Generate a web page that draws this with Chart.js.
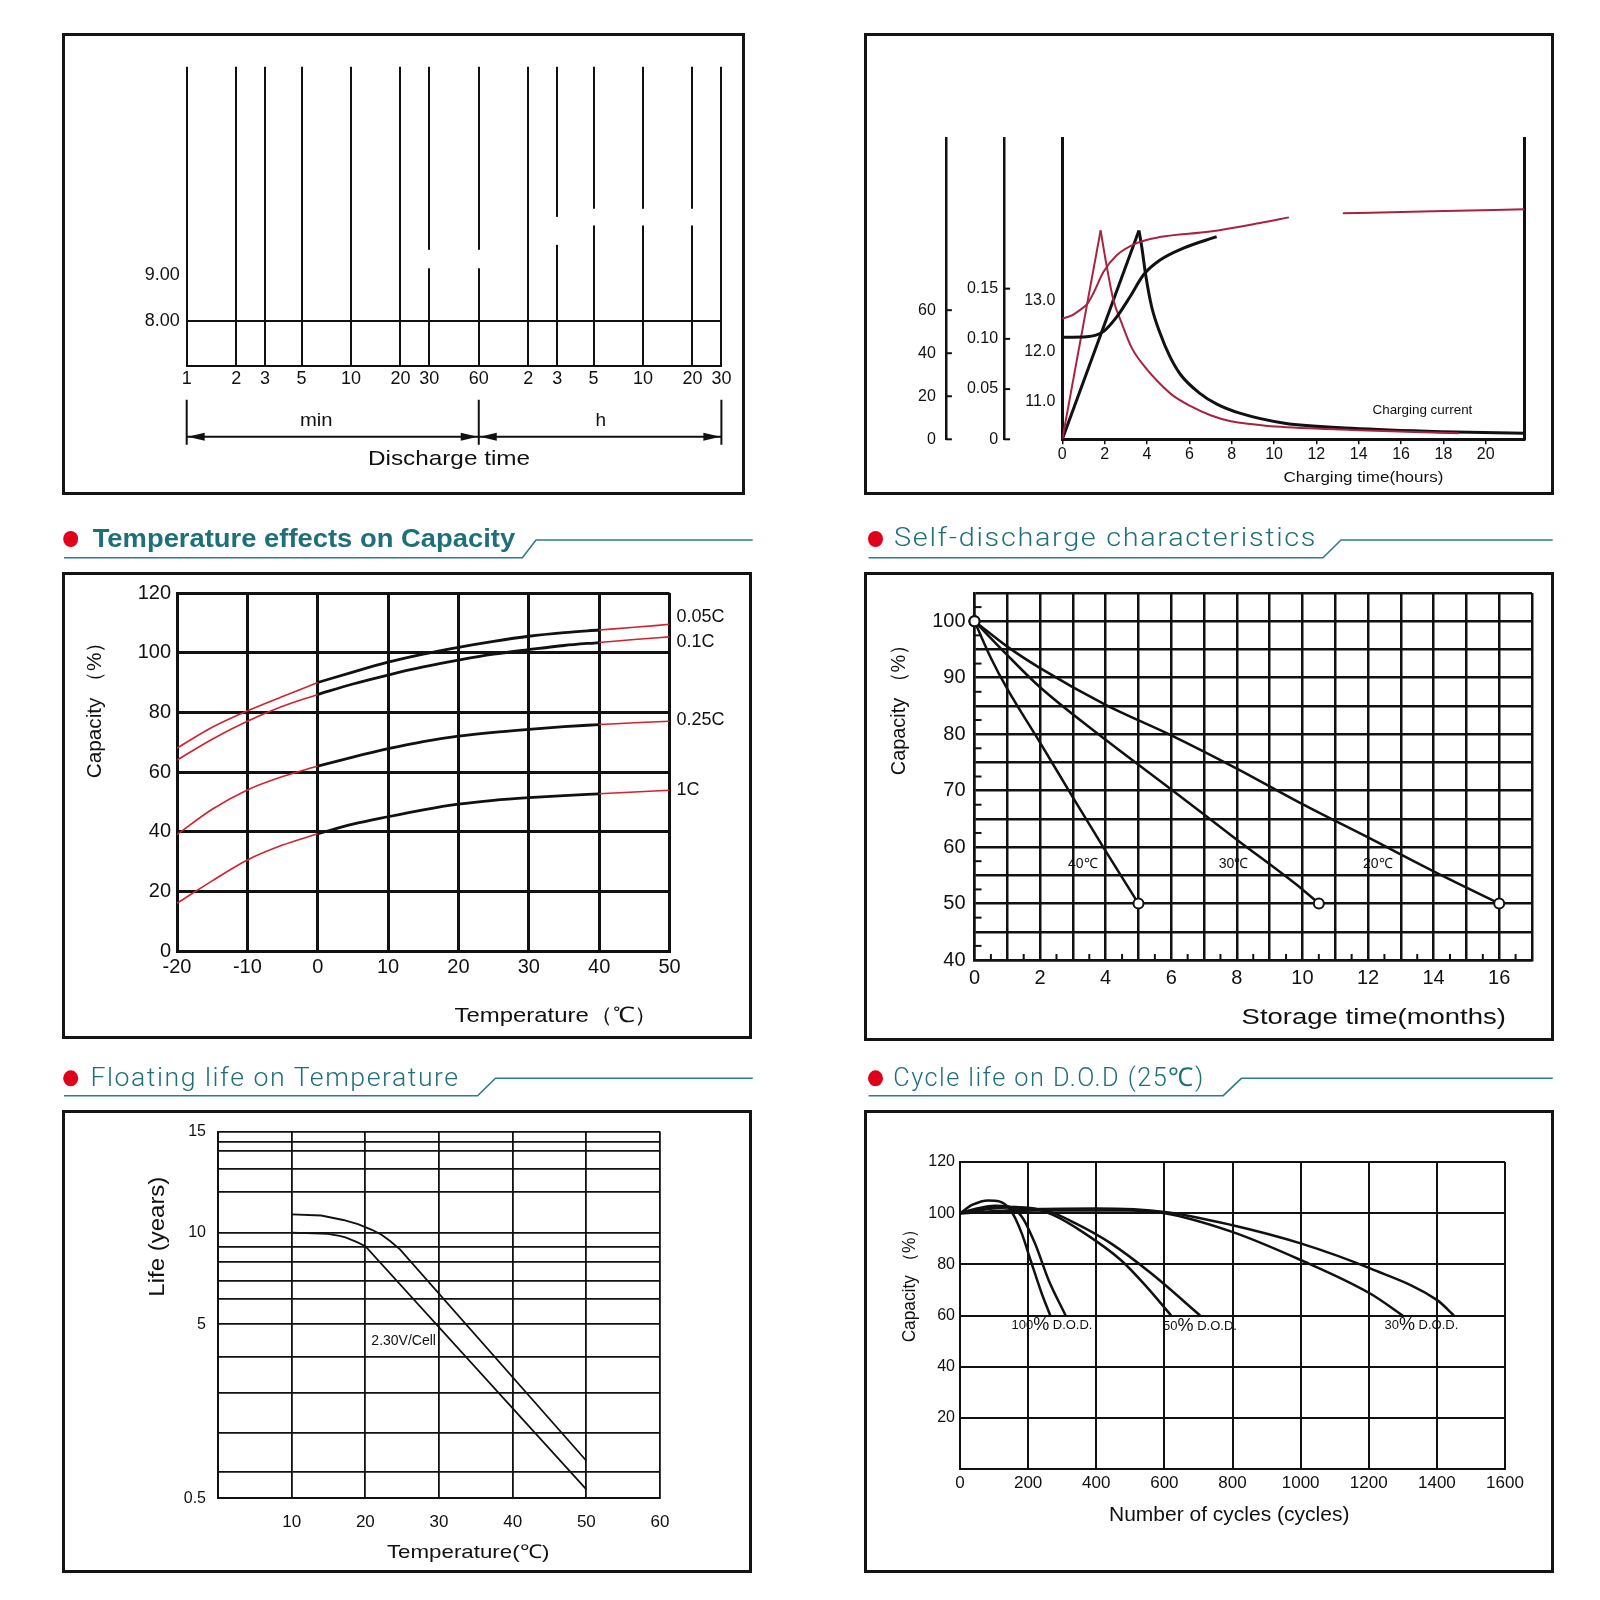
<!DOCTYPE html>
<html>
<head>
<meta charset="utf-8">
<title>Battery characteristics</title>
<script src="https://cdn.jsdelivr.net/npm/chart.js@4.4.1/dist/chart.umd.min.js"></script>
<style>
  html, body { margin: 0; padding: 0; background: #fff; }
  #page { position: relative; width: 1600px; height: 1600px; overflow: hidden;
          font-family: "Liberation Sans", Arial, sans-serif; color: #111; }
  canvas { position: absolute; }
  .frame { position: absolute; border: 3px solid #141414; box-sizing: border-box; }
  .t { position: absolute; white-space: nowrap; line-height: 1.15; transform-origin: 50% 50%; }
</style>
</head>
<body>
<div id="page"></div>
<script>
const FONT = '"Liberation Sans", Arial, sans-serif';
const INK = '#111111';
const RED = '#d0232f';
const WINE = '#a9223f';
const TEAL = '#1f6f7a';

// ---------- discharge (blank grid) ----------
const dischargeTicks = [1, 2, 3, 5, 10, 20, 30, 60, 120, 180, 300, 600, 1200, 1800]; // minutes
const dischargeLabels = ['1', '2', '3', '5', '10', '20', '30', '60', '2', '3', '5', '10', '20', '30'];
const endVoltTicks = [8, 9];
const spanEdges = [1, 60, 1800];
// white breaks in the vertical rules
const breakTimes = [30, 60, 180, 300, 600, 1200];
const breakLow = [9.16, 9.16, 9.68, 10.11, 10.11, 10.11];
const breakHigh = [9.57, 9.57, 10.30, 10.48, 10.48, 10.48];

// ---------- charging characteristics ----------
const chargeHourTicks = [0, 2, 4, 6, 8, 10, 12, 14, 16, 18, 20];
const chargeVoltTicks = [11, 12, 13];
const chargeCurrTicks = [0, 0.05, 0.10, 0.15];
const chargeVolTicks = [0, 20, 40, 60];
const wineVoltHours = [0, 0.4, 0.84, 1.2, 1.47, 1.94, 2.57, 3.51, 4.6, 6.98, 9.34, 10.7, 12, 13.25, 17.5, 21.83];
const wineVoltValues = [12.65, 12.7, 12.82, 12.95, 13.15, 13.57, 13.9, 14.14, 14.26, 14.37, 14.54, 14.65, null, 14.73, 14.77, 14.81];
const blackVoltHours = [0, 1.15, 1.94, 2.57, 3.2, 3.83, 4.6, 5.72, 7.29];
const blackVoltValues = [12.28, 12.29, 12.39, 12.68, 13.08, 13.51, 13.8, 14.04, 14.27];
const wineCurrHours = [0, 1.81, 2.1, 2.41, 2.8, 3.28, 3.9, 4.58, 5.2, 6.06, 7.0, 7.96, 9.0, 10.07, 13.66, 18.73];
const wineCurrValues = [0, 0.208, 0.172, 0.139, 0.116, 0.091, 0.072, 0.056, 0.044, 0.033, 0.024, 0.018, 0.015, 0.0127, 0.0093, 0.006];
const blackCurrHours = [0, 3.62, 3.75, 3.95, 4.22, 4.61, 5.09, 5.6, 6.48, 7.3, 8.38, 10.5, 13.66, 17.9, 21.83];
const blackCurrValues = [0, 0.208, 0.192, 0.162, 0.132, 0.106, 0.082, 0.064, 0.046, 0.035, 0.026, 0.016, 0.011, 0.0076, 0.006];

// ---------- temperature effects on capacity ----------
const tempC = [-20, -15, -10, -5, 0, 5, 10, 15, 20, 25, 30, 35, 40, 45, 50];
const tempTicks = [-20, -10, 0, 10, 20, 30, 40, 50];
const capTicks = [0, 20, 40, 60, 80, 100, 120];
const cap005C = [68, 75, 80.5, 85.3, 90, 93.5, 96.8, 99.5, 101.8, 103.8, 105.5, 106.7, 107.6, 108.5, 109.5];
const cap01C = [64, 71, 77, 82, 86, 89.5, 92.5, 95.2, 97.5, 99.5, 101, 102.4, 103.4, 104.4, 105.3];
const cap025C = [39, 47.5, 54, 58.5, 62, 65, 67.8, 70.2, 72, 73.3, 74.3, 75.2, 75.9, 76.5, 77];
const cap1C = [16, 23.5, 30.5, 35.5, 39.3, 42.5, 45, 47.3, 49.2, 50.5, 51.4, 52.1, 52.7, 53.3, 53.9];
const rateNames = ['0.05C', '0.1C', '0.25C', '1C'];
const rateLabelAt = [111.9, 103.7, 77.3, 54];

// ---------- self-discharge ----------
const monthTicks = [0, 1, 2, 3, 4, 5, 6, 7, 8, 9, 10, 11, 12, 13, 14, 15, 16, 17];
const monthLabels = ['0', '', '2', '', '4', '', '6', '', '8', '', '10', '', '12', '', '14', '', '16', ''];
const monthMinor = [0.5, 1.5, 2.5, 3.5, 4.5, 5.5, 6.5, 7.5, 8.5, 9.5, 10.5, 11.5, 12.5, 13.5, 14.5, 15.5, 16.5];
const storeCapTicks = [40, 45, 50, 55, 60, 65, 70, 75, 80, 85, 90, 95, 100, 105];
const storeCapLabels = ['40', '', '50', '', '60', '', '70', '', '80', '', '90', '', '100', ''];
const storeCapMinor = [42.5, 47.5, 52.5, 57.5, 62.5, 67.5, 72.5, 77.5, 82.5, 87.5, 92.5, 97.5, 102.5];
const months40 = [0, 0.5, 1, 2, 3, 4, 5];
const cap40 = [100, 93.5, 88, 78.5, 68.8, 59.3, 50];
const months30 = [0, 1, 2, 4, 6, 8, 10, 10.5];
const cap30 = [100, 94, 88.3, 79, 70.2, 61.3, 52.5, 50];
const months20 = [0, 1, 2, 4, 6, 8, 10, 12, 14, 16];
const cap20 = [100, 95.5, 91.7, 85.2, 79.8, 73.9, 67.6, 61.7, 55.7, 50];
const storeNames = ['40℃', '30℃', '20℃'];
const storeLabelMonths = [3.3, 7.9, 12.3];
const storeLabelCap = 57;

// ---------- floating life ----------
const floatTempTicks = [0, 10, 20, 30, 40, 50, 60];
const floatTempLabels = ['', '10', '20', '30', '40', '50', '60'];
const lifeGrid = [0.5, 1, 2, 3, 4, 5, 6, 7, 8, 9, 10, 11, 12, 13, 14, 15];
const lifeGridPos = [0, 0.0713, 0.1784, 0.2874, 0.3857, 0.4750, 0.5427, 0.5936, 0.6445, 0.6847, 0.7233, 0.8347, 0.8974, 0.9464, 0.9713, 1];
const lifeLabelled = [0.5, 5, 10, 15];
const upperTemp = [10, 14, 17, 19, 20.9, 22.2, 23.4, 24.7, 50];
const upperLife = [10.46, 10.43, 10.32, 10.22, 10.08, 9.88, 9.42, 8.85, 1.29];
const lowerTemp = [10, 13, 14.9, 16.5, 17.3, 18.8, 20, 50];
const lowerLife = [10.01, 9.98, 9.95, 9.8, 9.69, 9.38, 9.07, 0.67];

// ---------- cycle life ----------
const cycleTicks = [0, 200, 400, 600, 800, 1000, 1200, 1400, 1600];
const cycleCapTicks = [0, 20, 40, 60, 80, 100, 120];
const dod100aCycles = [0, 37, 83, 115, 148, 181, 207, 240, 265];
const dod100aCap = [100, 103.3, 105, 104.6, 101.3, 92.2, 81.7, 68.6, 60];
const dod100bCycles = [0, 50, 102, 142, 181, 220, 260, 310];
const dod100bCap = [100, 101.8, 102.9, 102.6, 98.7, 88.2, 73.9, 60];
const dod50aCycles = [0, 50, 102, 207, 273, 365, 472, 548, 620];
const dod50aCap = [100, 101.5, 102.5, 102, 99.3, 92.2, 81.7, 71.2, 60];
const dod50bCycles = [0, 142, 260, 338, 443, 561, 705];
const dod50bCap = [100, 102.2, 100.7, 96.1, 88.2, 76.5, 60];
const dod30aCycles = [0, 233, 400, 601, 797, 1000, 1204, 1401, 1450];
const dod30aCap = [100, 101.6, 101.8, 100.5, 95.4, 88.2, 78.4, 66, 60];
const dod30bCycles = [0, 233, 496, 601, 797, 1000, 1204, 1300];
const dod30bCap = [100, 101, 101, 100, 92.8, 81.7, 68.6, 60];
const dodNames = ['100', '50', '30'];
const dodLabelAt = [[270, 56.1], [704.6, 55.7], [1354.7, 56.1]];

// ---------- helpers ----------
Chart.defaults.font.family = FONT;
Chart.defaults.color = INK;
Chart.defaults.animation = false;
Chart.defaults.events = [];
Chart.defaults.plugins.legend.display = false;
Chart.defaults.plugins.tooltip.enabled = false;
Chart.defaults.elements.point.radius = 0;

const page = document.getElementById('page');
const AXIS_H = 40;
const pts = (xs, ys) => xs.map((x, i) => ({ x: x, y: ys[i] }));
const fixTicks = list => s => { s.ticks = list.map(v => ({ value: v })); };

function splitAtPeak(xs, ys) {
  const k = ys.indexOf(Math.max(...ys));
  return [pts(xs.slice(0, k + 1), ys.slice(0, k + 1)), pts(xs.slice(k), ys.slice(k))];
}

function makePanel(box, area, leftW, config) {
  const [x0, y0, x1, y1] = box;
  const w = x1 - x0, h = y1 - y0;
  const cv = document.createElement('canvas');
  cv.width = w; cv.height = h;
  cv.style.left = x0 + 'px'; cv.style.top = y0 + 'px';
  cv.style.width = w + 'px'; cv.style.height = h + 'px';
  page.appendChild(cv);
  const fr = document.createElement('div');
  fr.className = 'frame';
  fr.style.left = x0 + 'px'; fr.style.top = y0 + 'px';
  fr.style.width = w + 'px'; fr.style.height = h + 'px';
  page.appendChild(fr);
  config.options.responsive = false;
  config.options.layout = { padding: {
    left: area[0] - x0 - leftW, top: area[1] - y0,
    right: x1 - area[2], bottom: y1 - area[3] - AXIS_H } };
  return new Chart(cv, config);
}

function txt(s, cx, cy, size, o) {
  o = o || {};
  const el = document.createElement('div');
  el.className = 't';
  el.textContent = s;
  el.style.fontSize = size + 'px';
  el.style.fontFamily = o.family || FONT;
  if (o.weight) el.style.fontWeight = o.weight;
  if (o.color) el.style.color = o.color;
  if (o.spacing) el.style.letterSpacing = o.spacing + 'px';
  page.appendChild(el);
  const w = el.offsetWidth, h = el.offsetHeight;
  const sx = o.width ? o.width / w : 1;
  el.style.left = (cx - w / 2) + 'px';
  el.style.top = (cy - h / 2) + 'px';
  el.style.transform = 'rotate(' + (o.rot || 0) + 'deg) scaleX(' + sx + ')';
  return el;
}

// short marks drawn from an axis line into the plot
const innerTicks = {
  id: 'innerTicks',
  afterDraw(chart, args, opts) {
    const ctx = chart.ctx;
    ctx.save();
    ctx.strokeStyle = INK;
    ctx.lineWidth = opts.width || 2;
    (opts.marks || []).forEach(m => {
      const s = chart.scales[m.scale];
      m.values.forEach(v => {
        const p = s.getPixelForValue(v);
        ctx.beginPath();
        if (s.isHorizontal()) { ctx.moveTo(p, s.top); ctx.lineTo(p, s.top - m.len); }
        else { ctx.moveTo(s.right, p); ctx.lineTo(s.right + m.len, p); }
        ctx.stroke();
      });
    });
    ctx.restore();
  }
};

// text anchored to data coordinates; each item can mix font sizes
const curveLabels = {
  id: 'curveLabels',
  afterDatasetsDraw(chart, args, opts) {
    const ctx = chart.ctx;
    const xs = chart.scales[opts.xAxis || 'x'], ys = chart.scales[opts.yAxis || 'y'];
    ctx.save();
    ctx.fillStyle = INK;
    ctx.textBaseline = 'middle';
    ctx.textAlign = 'left';
    (opts.items || []).forEach(it => {
      const parts = it.parts || [[it.text, opts.size]];
      let x = xs.getPixelForValue(it.x) + (opts.dx || 0);
      const y = ys.getPixelForValue(it.y);
      let total = 0;
      parts.forEach(p => { ctx.font = p[1] + 'px ' + FONT; total += ctx.measureText(p[0]).width; });
      if (opts.align === 'center') x -= total / 2;
      parts.forEach(p => {
        ctx.font = p[1] + 'px ' + FONT;
        ctx.fillText(p[0], x, y);
        x += ctx.measureText(p[0]).width;
      });
    });
    ctx.restore();
  }
};

const ruleBreaks = {
  id: 'ruleBreaks',
  afterDraw(chart) {
    const ctx = chart.ctx, x = chart.scales.x, y = chart.scales.y;
    ctx.save();
    ctx.fillStyle = '#fff';
    breakTimes.forEach((t, i) => {
      const px = x.getPixelForValue(t);
      const top = y.getPixelForValue(breakHigh[i]), bot = y.getPixelForValue(breakLow[i]);
      ctx.fillRect(px - 3, top, 6, bot - top);
    });
    ctx.restore();
  }
};

const spanArrows = {
  id: 'spanArrows',
  afterDraw(chart) {
    const ctx = chart.ctx, area = chart.chartArea, x = chart.scales.x;
    const xs = spanEdges.map(v => x.getPixelForValue(v));
    const yTop = area.bottom + 34, yBot = area.bottom + 79, yLine = area.bottom + 71;
    ctx.save();
    ctx.strokeStyle = INK; ctx.fillStyle = INK; ctx.lineWidth = 2;
    ctx.beginPath();
    xs.forEach(px => { ctx.moveTo(px, yTop); ctx.lineTo(px, yBot); });
    ctx.moveTo(xs[0], yLine); ctx.lineTo(xs[xs.length - 1], yLine);
    ctx.stroke();
    const head = (px, dir) => {
      ctx.beginPath();
      ctx.moveTo(px, yLine);
      ctx.lineTo(px + dir * 17, yLine - 4);
      ctx.lineTo(px + dir * 17, yLine + 4);
      ctx.closePath(); ctx.fill();
    };
    for (let i = 0; i < xs.length - 1; i++) { head(xs[i] + 1, 1); head(xs[i + 1] - 1, -1); }
    ctx.restore();
  }
};

// y axis of the floating-life chart: uneven ruling, piecewise linear
function knotDecimal(v) {
  const g = lifeGrid, p = lifeGridPos;
  let i = 0;
  while (i < g.length - 2 && v > g[i + 1]) i++;
  return p[i] + (v - g[i]) / (g[i + 1] - g[i]) * (p[i + 1] - p[i]);
}
function knotValue(d) {
  const g = lifeGrid, p = lifeGridPos;
  let i = 0;
  while (i < p.length - 2 && d > p[i + 1]) i++;
  return g[i] + (d - p[i]) / (p[i + 1] - p[i]) * (g[i + 1] - g[i]);
}
class KnotScale extends Chart.LinearScale {
  determineDataLimits() { this.min = lifeGrid[0]; this.max = lifeGrid[lifeGrid.length - 1]; }
  buildTicks() { return lifeGrid.map(v => ({ value: v })); }
  getPixelForValue(v) {
    if (v === null || v === undefined || isNaN(v)) return NaN;
    return this.getPixelForDecimal(knotDecimal(v));
  }
  getValueForPixel(px) { return knotValue(this.getDecimalForPixel(px)); }
}
KnotScale.id = 'knot';
KnotScale.defaults = Chart.LinearScale.defaults;
Chart.register(KnotScale);

const line = (data, color, width, extra) => Object.assign({
  data: data, borderColor: color, borderWidth: width, pointRadius: 0,
  fill: false, cubicInterpolationMode: 'monotone', spanGaps: false
}, extra || {});
const straight = { cubicInterpolationMode: 'default', tension: 0 };

// ---------- panel 1: discharge grid ----------
makePanel([62, 33, 745, 495], [186.7, 66.7, 721.4, 365.7], 60, {
  type: 'line',
  data: { datasets: [] },
  options: {
    scales: {
      x: {
        type: 'logarithmic', min: 1, max: 1800,
        afterBuildTicks: fixTicks(dischargeTicks),
        afterFit: s => { s.height = AXIS_H; },
        ticks: { callback: (v, i) => dischargeLabels[i], font: { size: 18 }, padding: 3, autoSkip: false, maxRotation: 0 },
        grid: { color: INK, lineWidth: 2, drawTicks: false },
        border: { color: INK, width: 2 }
      },
      y: {
        type: 'linear', min: 7, max: 13.63,
        afterBuildTicks: fixTicks(endVoltTicks),
        afterFit: s => { s.width = 60; },
        ticks: { callback: v => v.toFixed(2), font: { size: 18 }, padding: 7 },
        grid: { color: c => (c.tick && c.tick.value === 8) ? INK : 'rgba(0,0,0,0)', lineWidth: 2, drawTicks: false },
        border: { display: false }
      }
    }
  },
  plugins: [ruleBreaks, spanArrows]
});
txt('min', 316, 419.5, 19, { width: 33 });
txt('h', 601, 420, 19, { width: 11 });
txt('Discharge time', 448.5, 458, 21, { width: 162 });

// ---------- panel 2: charging ----------
const wineCurr = splitAtPeak(wineCurrHours, wineCurrValues);
const blackCurr = splitAtPeak(blackCurrHours, blackCurrValues);
makePanel([864, 33, 1554, 495], [1062.3, 138, 1524.5, 439.3], 176.4, {
  type: 'line',
  data: { datasets: [
    line(pts(wineVoltHours, wineVoltValues), WINE, 2, { yAxisID: 'yV' }),
    line(pts(blackVoltHours, blackVoltValues), INK, 3, { yAxisID: 'yV' }),
    line(wineCurr[0], WINE, 2, Object.assign({ yAxisID: 'yI' }, straight)),
    line(wineCurr[1], WINE, 2, { yAxisID: 'yI' }),
    line(blackCurr[0], INK, 3, Object.assign({ yAxisID: 'yI' }, straight)),
    line(blackCurr[1], INK, 3, { yAxisID: 'yI' })
  ] },
  options: {
    scales: {
      x: {
        type: 'linear', min: 0, max: 21.83,
        afterBuildTicks: fixTicks(chargeHourTicks),
        afterFit: s => { s.height = AXIS_H; },
        ticks: { font: { size: 16 }, padding: 1, autoSkip: false, maxRotation: 0 },
        grid: { drawOnChartArea: false, drawTicks: true, tickLength: 5, color: INK, lineWidth: 1.5 },
        border: { color: INK, width: 3 }
      },
      yV: {
        type: 'linear', position: 'left', weight: 0, min: 10.26, max: 16.22,
        afterBuildTicks: fixTicks(chargeVoltTicks),
        afterFit: s => { s.width = 58.2; },
        ticks: { callback: v => v.toFixed(1), font: { size: 16 }, padding: 7 },
        grid: { drawOnChartArea: false, drawTicks: false },
        border: { color: INK, width: 3 }
      },
      yI: {
        type: 'linear', position: 'left', weight: 1, min: 0, max: 0.30,
        afterBuildTicks: fixTicks(chargeCurrTicks),
        afterFit: s => { s.width = 58.2; },
        ticks: { callback: v => v === 0 ? '0' : v.toFixed(2), font: { size: 16 }, padding: 6 },
        grid: { drawOnChartArea: false, drawTicks: false },
        border: { color: INK, width: 2.5 }
      },
      yP: {
        type: 'linear', position: 'left', weight: 2, min: 0, max: 140,
        afterBuildTicks: fixTicks(chargeVolTicks),
        afterFit: s => { s.width = 60; },
        ticks: { font: { size: 16 }, padding: 10 },
        grid: { drawOnChartArea: false, drawTicks: false },
        border: { color: INK, width: 2.5 }
      },
      yR: {
        type: 'linear', position: 'right', min: 0, max: 1,
        afterFit: s => { s.width = 0; },
        ticks: { display: false },
        grid: { drawOnChartArea: false, drawTicks: false },
        border: { color: INK, width: 3 }
      }
    },
    plugins: {
      innerTicks: { width: 2, marks: [
        { scale: 'yI', values: chargeCurrTicks, len: 6 },
        { scale: 'yP', values: chargeVolTicks, len: 6 }
      ] }
    }
  },
  plugins: [innerTicks]
});
txt('Charging current', 1422, 410, 13, { width: 100 });
txt('Charging time(hours)', 1363.5, 476.5, 15, { width: 160 });

// ---------- panel 3: temperature effects on capacity ----------
const rateSeries = [cap005C, cap01C, cap025C, cap1C];
const tempSets = [];
rateSeries.forEach(vals => {
  const cold = [], mid = [], warm = [];
  tempC.forEach((t, i) => {
    const p = { x: t, y: vals[i] };
    if (t <= 0) cold.push(p);
    if (t >= 0 && t <= 40) mid.push(p);
    if (t >= 40) warm.push(p);
  });
  tempSets.push(line(cold, RED, 1.6), line(mid, INK, 2.8), line(warm, RED, 1.6));
});
makePanel([62, 572, 752, 1039], [177, 593, 669.5, 951], 60, {
  type: 'line',
  data: { datasets: tempSets },
  options: {
    scales: {
      x: {
        type: 'linear', min: -20, max: 50,
        afterBuildTicks: fixTicks(tempTicks),
        afterFit: s => { s.height = AXIS_H; },
        ticks: { callback: v => String(v), font: { size: 20 }, padding: 4, autoSkip: false, maxRotation: 0 },
        grid: { color: INK, lineWidth: 3, drawTicks: false },
        border: { color: INK, width: 3 }
      },
      y: {
        type: 'linear', min: 0, max: 120,
        afterBuildTicks: fixTicks(capTicks),
        afterFit: s => { s.width = 60; },
        ticks: { font: { size: 20 }, padding: 6 },
        grid: { color: INK, lineWidth: 3, drawTicks: false },
        border: { color: INK, width: 3 }
      }
    },
    plugins: {
      curveLabels: { size: 18, dx: 7, items: rateNames.map((n, i) => ({ text: n, x: 50, y: rateLabelAt[i] })) }
    }
  },
  plugins: [curveLabels]
});
txt('Capacity （%）', 93.5, 705, 21, { rot: -90, width: 146 });
txt('Temperature（℃）', 556.5, 1015, 21, { width: 204 });

// ---------- panel 4: self-discharge ----------
const endMarks = ctx => (ctx.dataIndex === 0 || ctx.dataIndex === ctx.dataset.data.length - 1) ? 5 : 0;
const storeSet = data => line(data, INK, 2.5, {
  pointRadius: endMarks, pointBorderWidth: 2, pointBorderColor: INK,
  pointBackgroundColor: '#fff', clip: 10
});
makePanel([864, 572, 1554, 1041], [974.5, 585, 1532, 960], 60, {
  type: 'line',
  data: { datasets: [
    storeSet(pts(months40, cap40)),
    storeSet(pts(months30, cap30)),
    storeSet(pts(months20, cap20))
  ] },
  options: {
    scales: {
      x: {
        type: 'linear', min: 0, max: 17,
        afterBuildTicks: fixTicks(monthTicks),
        afterFit: s => { s.height = AXIS_H; },
        ticks: { callback: (v, i) => monthLabels[i], font: { size: 20 }, padding: 6, autoSkip: false, maxRotation: 0 },
        grid: { color: INK, lineWidth: 2.5, drawTicks: false },
        border: { color: INK, width: 2.5 }
      },
      y: {
        type: 'linear', min: 40, max: 105,
        afterBuildTicks: fixTicks(storeCapTicks),
        afterFit: s => { s.width = 60; },
        ticks: { callback: (v, i) => storeCapLabels[i], font: { size: 20 }, padding: 9, autoSkip: false },
        grid: { color: INK, lineWidth: 2.5, drawTicks: false },
        border: { color: INK, width: 2.5 }
      }
    },
    plugins: {
      innerTicks: { width: 2, marks: [
        { scale: 'y', values: storeCapMinor, len: 7 },
        { scale: 'x', values: monthMinor, len: 6 }
      ] },
      curveLabels: { size: 14, align: 'center', items: storeNames.map((n, i) => ({ text: n, x: storeLabelMonths[i], y: storeLabelCap })) }
    }
  },
  plugins: [innerTicks, curveLabels]
});
txt('Capacity （%）', 898, 705, 21, { rot: -90, width: 140 });
txt('Storage time(months)', 1373.5, 1016.5, 22, { width: 265 });

// ---------- panel 5: floating life ----------
makePanel([62, 1110, 752, 1573], [218, 1125, 660, 1498.3], 60, {
  type: 'line',
  data: { datasets: [
    line(pts(upperTemp, upperLife), INK, 1.8, straight),
    line(pts(lowerTemp, lowerLife), INK, 1.8, straight)
  ] },
  options: {
    scales: {
      x: {
        type: 'linear', min: 0, max: 60,
        afterBuildTicks: fixTicks(floatTempTicks),
        afterFit: s => { s.height = AXIS_H; },
        ticks: { callback: (v, i) => floatTempLabels[i], font: { size: 17 }, padding: 14, autoSkip: false, maxRotation: 0 },
        grid: { color: INK, lineWidth: 1.8, drawTicks: false },
        border: { color: INK, width: 2 }
      },
      y: {
        type: 'knot',
        afterFit: s => { s.width = 60; },
        ticks: { callback: v => lifeLabelled.includes(v) ? String(v) : '', font: { size: 16 }, padding: 12, autoSkip: false },
        grid: { color: INK, lineWidth: 1.8, drawTicks: false },
        border: { color: INK, width: 2 }
      }
    },
    plugins: {
      curveLabels: { size: 14, align: 'center', items: [{ text: '2.30V/Cell', x: 25.2, y: 4.49 }] }
    }
  },
  plugins: [curveLabels]
});
txt('Life (years)', 156.5, 1236.5, 22, { rot: -90, width: 120 });
txt('Temperature(℃)', 468, 1551.5, 19, { width: 162 });

// ---------- panel 6: cycle life ----------
makePanel([864, 1110, 1554, 1573], [960, 1162, 1505, 1469], 60, {
  type: 'line',
  data: { datasets: [
    line(pts(dod100aCycles, dod100aCap), INK, 2.5),
    line(pts(dod100bCycles, dod100bCap), INK, 2.5),
    line(pts(dod50aCycles, dod50aCap), INK, 2.5),
    line(pts(dod50bCycles, dod50bCap), INK, 2.5),
    line(pts(dod30aCycles, dod30aCap), INK, 2.5),
    line(pts(dod30bCycles, dod30bCap), INK, 2.5)
  ] },
  options: {
    scales: {
      x: {
        type: 'linear', min: 0, max: 1600,
        afterBuildTicks: fixTicks(cycleTicks),
        afterFit: s => { s.height = AXIS_H; },
        ticks: { callback: v => String(v), font: { size: 17 }, padding: 4, autoSkip: false, maxRotation: 0 },
        grid: { color: INK, lineWidth: 2, drawTicks: false },
        border: { color: INK, width: 2 }
      },
      y: {
        type: 'linear', min: 0, max: 120,
        afterBuildTicks: fixTicks(cycleCapTicks),
        afterFit: s => { s.width = 60; },
        ticks: { callback: v => v === 0 ? '' : String(v), font: { size: 16 }, padding: 5 },
        grid: { color: INK, lineWidth: 2, drawTicks: false },
        border: { color: INK, width: 2 }
      }
    },
    plugins: {
      curveLabels: { align: 'center', items: dodNames.map((n, i) => ({
        x: dodLabelAt[i][0], y: dodLabelAt[i][1],
        parts: [[n, 13], ['%', 18], [' D.O.D.', 13]] })) }
    }
  },
  plugins: [curveLabels]
});
txt('Capacity （%）', 909, 1281, 18, { rot: -90, width: 122 });
txt('Number of cycles (cycles)', 1229, 1513.5, 21, { width: 240 });

// ---------- section headings ----------
const headings = [
  { text: 'Temperature effects on Capacity', dot: [70.7, 539], left: 93, width: 422.7, cy: 538, size: 25, weight: 'bold', spacing: 0,
    rule: [[64, 557.7], [522.4, 557.7], [536, 540], [752.7, 540]] },
  { text: 'Self-discharge characteristics', dot: [875.5, 539], left: 893.6, width: 422.8, cy: 538, size: 26, weight: 300, spacing: 1.5,
    rule: [[868.6, 557.7], [1323, 557.7], [1341, 540], [1552.7, 540]] },
  { text: 'Floating life on Temperature', dot: [70.7, 1078.3], left: 90.8, width: 369, cy: 1078, size: 26, weight: 300, spacing: 1.5,
    rule: [[64, 1095.7], [477.6, 1095.7], [495.5, 1078.3], [752.7, 1078.3]] },
  { text: 'Cycle life on D.O.D (25℃)', dot: [875.5, 1078.3], left: 893.6, width: 311.4, cy: 1078, size: 26, weight: 300, spacing: 1.5,
    rule: [[868.6, 1095.7], [1223.2, 1095.7], [1241.4, 1078.3], [1552.7, 1078.3]] }
];
const NS = 'http://www.w3.org/2000/svg';
const svg = document.createElementNS(NS, 'svg');
svg.setAttribute('width', 1600); svg.setAttribute('height', 1600);
svg.style.position = 'absolute'; svg.style.left = '0'; svg.style.top = '0';
page.appendChild(svg);
headings.forEach(h => {
  const pl = document.createElementNS(NS, 'polyline');
  pl.setAttribute('points', h.rule.map(p => p.join(',')).join(' '));
  pl.setAttribute('fill', 'none');
  pl.setAttribute('stroke', '#2b7d87');
  pl.setAttribute('stroke-width', '1.6');
  svg.appendChild(pl);
  const c = document.createElementNS(NS, 'ellipse');
  c.setAttribute('cx', h.dot[0]); c.setAttribute('cy', h.dot[1]);
  c.setAttribute('rx', 7.5); c.setAttribute('ry', 8);
  c.setAttribute('fill', '#e1001a');
  svg.appendChild(c);
  txt(h.text, h.left + h.width / 2, h.cy, h.size, {
    width: h.width, weight: h.weight, spacing: h.spacing, color: TEAL,
    family: h.weight === 'bold' ? FONT : '"Roboto", "Liberation Sans", sans-serif'
  });
});
</script>
</body>
</html>
